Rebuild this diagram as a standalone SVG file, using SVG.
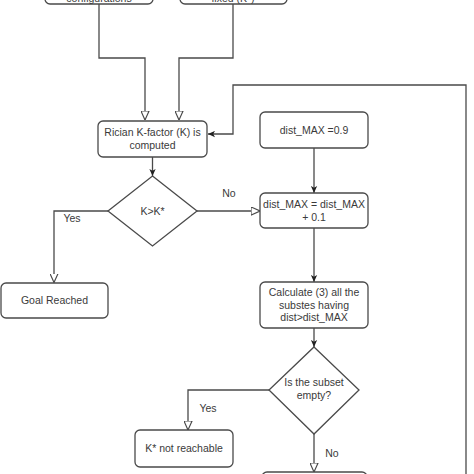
<svg xmlns="http://www.w3.org/2000/svg" width="474" height="474" viewBox="0 0 474 474">
<defs>
<style>
.box{fill:#fff;stroke:#4a4a4a;stroke-width:1.3}
.ln{fill:none;stroke:#4a4a4a;stroke-width:1.3}
text{font-family:"Liberation Sans",Arial,sans-serif;font-size:10.5px;fill:#3a3a3a;text-anchor:middle}
</style>
<marker id="ho" viewBox="0 0 10 10" refX="10" refY="5" markerWidth="9" markerHeight="9" markerUnits="userSpaceOnUse" orient="auto">
<path d="M0,0.5 L10,5 L0,9.5 Z" fill="#fff" stroke="#4a4a4a" stroke-width="1.3"/>
</marker>
<marker id="fi" viewBox="0 0 10 10" refX="10" refY="5" markerWidth="7" markerHeight="7" markerUnits="userSpaceOnUse" orient="auto">
<path d="M0,0.5 L10,5 L0,9.5 L2.5,5 Z" fill="#222" stroke="none"/>
</marker>
</defs>
<rect width="474" height="474" fill="#fff"/>
<g id="connectors">
<path class="ln" d="M99,4 V58 H145 V120" marker-end="url(#ho)"/>
<path class="ln" d="M233,4 V58 H179 V120" marker-end="url(#ho)"/>
<path class="ln" d="M466,474 V85 H233 V134 H208" marker-end="url(#fi)"/>
<path class="ln" d="M152.5,157 V176" marker-end="url(#fi)"/>
<path class="ln" d="M197,211 H260" marker-end="url(#ho)"/>
<path class="ln" d="M108,211 H54 V282.5" marker-end="url(#ho)"/>
<path class="ln" d="M314,148 V193" marker-end="url(#fi)"/>
<path class="ln" d="M314,228 V282" marker-end="url(#fi)"/>
<path class="ln" d="M314,328 V347" marker-end="url(#fi)"/>
<path class="ln" d="M269,390 H188 V430" marker-end="url(#ho)"/>
<path class="ln" d="M314,434 V472" marker-end="url(#ho)"/>
<text x="229" y="197">No</text>
<text x="72" y="222">Yes</text>
<text x="208" y="412">Yes</text>
<text x="332" y="457">No</text>
</g>
<g id="n_config">
<rect class="box" x="45" y="-20" width="108" height="24" rx="5"/>
<text x="99" y="1.5">configurations</text>
</g>
<g id="n_fixed">
<rect class="box" x="180" y="-20" width="107" height="24" rx="5"/>
<text x="233" y="1.5">fixed (K*)</text>
</g>
<g id="n_rician">
<rect class="box" x="98" y="121" width="109" height="36" rx="5"/>
<text x="152.5" y="136">Rician K-factor (K) is</text>
<text x="152.5" y="149">computed</text>
</g>
<g id="n_kk">
<path class="box" d="M152.5,176 L197,211 L152.5,246 L108,211 Z"/>
<text x="152.5" y="214.5">K&gt;K*</text>
</g>
<g id="n_goal">
<rect class="box" x="1" y="283" width="107" height="35" rx="5"/>
<text x="54.5" y="304">Goal Reached</text>
</g>
<g id="n_init">
<rect class="box" x="260" y="112" width="108" height="36" rx="5"/>
<text x="314" y="133.5">dist_MAX =0.9</text>
</g>
<g id="n_inc">
<rect class="box" x="260" y="193" width="108" height="35" rx="5"/>
<text x="314" y="208">dist_MAX = dist_MAX</text>
<text x="314" y="221">+ 0.1</text>
</g>
<g id="n_calc">
<rect class="box" x="260" y="282" width="108" height="46" rx="5"/>
<text x="314" y="296">Calculate (3) all the</text>
<text x="314" y="308.5">substes having</text>
<text x="314" y="321">dist&gt;dist_MAX</text>
</g>
<g id="n_empty">
<path class="box" d="M314,347 L359,390 L314,434 L269,390 Z"/>
<text x="314" y="385.5">Is the subset</text>
<text x="314" y="399">empty?</text>
</g>
<g id="n_notreach">
<rect class="box" x="135" y="430" width="98" height="37" rx="5"/>
<text x="184" y="452">K* not reachable</text>
</g>
<g id="n_next">
<rect class="box" x="262" y="472" width="105" height="30" rx="5"/>
</g>
</svg>
